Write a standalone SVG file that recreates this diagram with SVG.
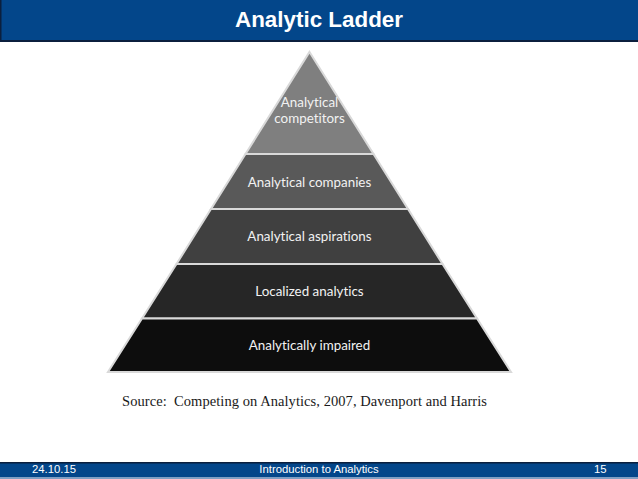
<svg xmlns="http://www.w3.org/2000/svg" width="638" height="479" viewBox="0 0 638 479">
<style>
.bar{fill:#03468a}
.lvl{stroke:#d9d9d9;stroke-width:2}
.lt{font-family:Lato,"Open Sans",sans-serif;font-size:13.4px;fill:#f2f2f2;text-anchor:middle;font-variant-ligatures:none;font-feature-settings:"liga" 0,"dlig" 0}
.ft{font-family:"Liberation Sans",Arial,sans-serif;font-size:11.3px;fill:#ffffff}
</style>
<rect width="638" height="479" fill="#ffffff"/>
<g id="title">
<rect class="bar" x="0" y="0" width="638" height="41"/>
<rect x="0" y="40" width="638" height="2" fill="#0b1f3d"/>
<rect x="0" y="0" width="1.5" height="41" fill="#0b1f3d"/>
<text x="319" y="27" font-family="Liberation Sans,Arial,sans-serif" font-size="22.4" font-weight="bold" fill="#ffffff" text-anchor="middle">Analytic Ladder</text>
</g>
<g id="pyramid">
<g id="level1">
<polygon class="lvl" points="309.5,52 373.5,154 245.5,154" fill="#7f7f7f"/>
<text class="lt" x="309.5" y="107">Analytical</text>
<text class="lt" x="309.5" y="123">competitors</text>
</g>
<g id="level2">
<polygon class="lvl" points="245.5,154 373.5,154 408,209 211,209" fill="#595959"/>
<text class="lt" x="309.5" y="186.5">Analytical companies</text>
</g>
<g id="level3">
<polygon class="lvl" points="211,209 408,209 442.5,264 176.5,264" fill="#404040"/>
<text class="lt" x="309.5" y="241">Analytical aspirations</text>
</g>
<g id="level4">
<polygon class="lvl" points="176.5,264 442.5,264 477,318.5 142,318.5" fill="#262626"/>
<text class="lt" x="309.5" y="295.5">Localized analytics</text>
</g>
<g id="level5">
<polygon class="lvl" points="142,318.5 477,318.5 511,372 108,372" fill="#0d0d0d"/>
<text class="lt" x="309.5" y="350">Analytically impaired</text>
</g>
</g>
<text x="122" y="406" xml:space="preserve" style="white-space:pre" font-family="Liberation Serif,'Times New Roman',serif" font-size="14.5" fill="#1a1a1a" textLength="365" lengthAdjust="spacing">Source:  Competing on Analytics, 2007, Davenport and Harris</text>
<g id="footer">
<rect class="bar" x="0" y="463" width="638" height="16"/>
<rect x="0" y="462" width="638" height="1.5" fill="#0b1f3d"/>
<rect x="0" y="477" width="638" height="2" fill="#7f9fc4"/>
<text class="ft" x="32" y="473">24.10.15</text>
<text class="ft" x="319" y="473" text-anchor="middle">Introduction to Analytics</text>
<text class="ft" x="594" y="473">15</text>
</g>
</svg>
